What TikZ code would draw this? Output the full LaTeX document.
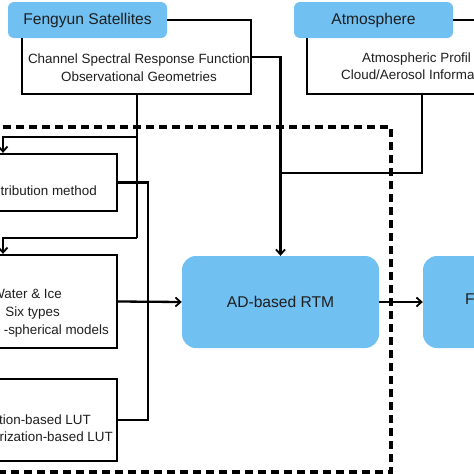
\documentclass[tikz,border=0pt]{standalone}
\usepackage{fontspec}
\setmainfont{Liberation Sans}
\usetikzlibrary{arrows.meta}
\definecolor{boxblue}{RGB}{112,192,242}
\definecolor{txt}{RGB}{30,30,30}
\begin{document}
\begin{tikzpicture}[x=1pt,y=-1pt,
  line/.style={line width=2.3pt, draw=black},
  arr/.style={line, -{Straight Barb[length=5pt,width=9pt,line width=1.8pt]}},
  bluebox/.style={fill=boxblue, draw=none, rounded corners=6pt, inner sep=0pt},
  bigbox/.style={fill=boxblue, draw=none, rounded corners=14pt, inner sep=0pt},
  whitebox/.style={draw=black, line width=2.3pt, inner sep=0pt},
  title/.style={font=\fontsize{15.6}{18}\selectfont, text=txt},
  small/.style={font=\fontsize{13.4}{17}\selectfont, text=txt, inner sep=0pt},
  dashbox/.style={line width=3.2pt, dash pattern=on 8pt off 5pt}]
\useasboundingbox (0,0) rectangle (474,474);
\clip (0,0) rectangle (474,474);

% blue boxes
\node[bluebox, title, minimum width=159pt, minimum height=36pt] (fy) at (87.5,20) {Fengyun Satellites};
\node[bluebox, title, minimum width=159pt, minimum height=36pt] (at) at (373.5,20) {Atmosphere};
\node[bigbox, title, minimum width=197pt, minimum height=92pt] (rtm) at (280.5,302) {AD-based RTM};
\node[bigbox, minimum width=197pt, minimum height=92pt] (fb) at (521.5,302) {};
\node[small, title, anchor=mid west] (ft) at (465,302) {F};

% white boxes (left, cropped)
\node[whitebox, minimum width=177pt, minimum height=57pt] (b2) at (28.5,182.5) {};
\node[whitebox, minimum width=177pt, minimum height=93pt] (b3) at (28.5,301.5) {};
\node[whitebox, minimum width=177pt, minimum height=82pt] (b4) at (28.5,420) {};

% texts
\node[small] (ch1) at (139,60) {Channel Spectral Response Function};
\node[small] (ch2) at (139,77) {Observational Geometries};
\node[small, anchor=mid west] (am1) at (362,60) {Atmospheric Profil};
\node[small, anchor=mid west] (am2) at (341,77) {Cloud/Aerosol Informa};
\node[small, anchor=mid east] (t2) at (97,193) {tribution method};
\node[small, anchor=mid east] (t3a) at (62,296) {Water \& Ice};
\node[small, anchor=mid east] (t3b) at (60,314) {Six types};
\node[small, anchor=mid east] (t3c) at (109,332) {-spherical models};
\node[small, anchor=mid east] (t4a) at (91,422) {tion-based LUT};
\node[small, anchor=mid east] (t4b) at (113,439) {rization-based LUT};

% coordinates
\coordinate (fyR) at (251,94);
\coordinate (fyL) at (22,94);
\coordinate (chJ) at (251,57);
\coordinate (chT) at (280.5,57);
\coordinate (chB) at (137,94);
\coordinate (chM) at (137,137);
\coordinate (chE) at (137,238);
\coordinate (a2) at (3,137);
\coordinate (a3) at (3,238);
\coordinate (atL) at (307,94);
\coordinate (atR) at (480,94);
\coordinate (atE) at (480,20);
\coordinate (atD) at (422,94);
\coordinate (atJ) at (422,173);
\coordinate (lp) at (148,182.5);

% Fengyun bracket
\draw[line] (fy.east) -| (fyR) -- (fyL) -- (fyL |- fy.south);
\draw[arr] (chJ) -- (chT) -- (rtm.north);
\draw[line] (chB) -- (chE);
\draw[arr] (chM) -- (a2) -- (a2 |- b2.north);
\draw[arr] (chE) -- (a3) -- (a3 |- b3.north);

% Atmosphere bracket
\draw[line] (at.east) -- (atE);
\draw[line] (atL |- at.south) -- (atL) -- (atR);
\draw[line] (atD) -- (atJ) -- (chT |- atJ);

% left loop and arrows
\draw[line] (b2.east) -- (lp) |- (b4.east);
\draw[arr] (b3.east) -- (rtm.west);
\draw[arr] (rtm.east) -- (fb.west);

% dashed frame
\draw[dashbox] (-10,127) -- (391,127) -- (391,472) -- (-10,472);
\end{tikzpicture}
\end{document}
